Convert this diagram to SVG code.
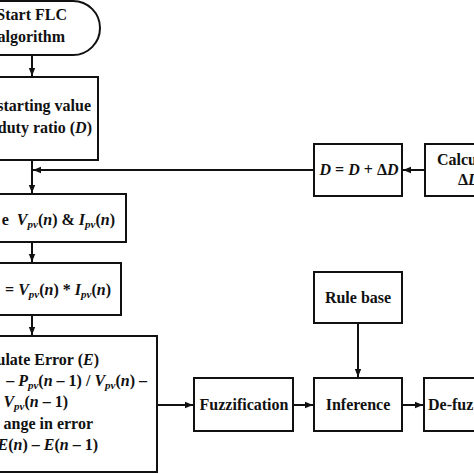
<svg xmlns="http://www.w3.org/2000/svg" width="474" height="474" viewBox="0 0 474 474">
<style>
.b{fill:#fff;stroke:#111;stroke-width:2}
.t{font-family:"Liberation Serif","Times New Roman",serif;font-weight:bold;font-size:16px;fill:#111}
.i{font-style:italic}
.s{font-size:11px;font-style:italic}
.c{stroke:#111;stroke-width:2;fill:none}
</style>
<defs>
<marker id="ah" viewBox="0 0 8 8" refX="8" refY="4" markerWidth="8" markerHeight="8" markerUnits="userSpaceOnUse" orient="auto">
<path d="M0,0.8 L8,4 L0,7.2 z" fill="#111"/>
</marker>
</defs>
<rect width="474" height="474" fill="#fff"/>
<g id="connectors">
<line class="c" x1="32" y1="56" x2="32" y2="76" marker-end="url(#ah)"/>
<line class="c" x1="32" y1="160" x2="32" y2="193" marker-end="url(#ah)"/>
<line class="c" x1="314" y1="170" x2="33" y2="170" marker-end="url(#ah)"/>
<line class="c" x1="32" y1="242" x2="32" y2="262" marker-end="url(#ah)"/>
<line class="c" x1="32" y1="315" x2="32" y2="335" marker-end="url(#ah)"/>
<line class="c" x1="425" y1="170" x2="403" y2="170" marker-end="url(#ah)"/>
<line class="c" x1="157" y1="405" x2="193" y2="405" marker-end="url(#ah)"/>
<line class="c" x1="293" y1="405" x2="313" y2="405" marker-end="url(#ah)"/>
<line class="c" x1="402" y1="405" x2="423" y2="405" marker-end="url(#ah)"/>
<line class="c" x1="358" y1="323" x2="358" y2="377" marker-end="url(#ah)"/>
</g>
<g id="start">
<path class="b" d="M-10,1 H73 A27,27 0 0 1 73,55 H-10 Z"/>
<text class="t" x="67" y="20" text-anchor="end">Start FLC</text>
<text class="t" x="65" y="42" text-anchor="end">algorithm</text>
</g>
<g id="init">
<rect class="b" x="-10" y="77" width="108" height="83"/>
<text class="t" x="91" y="111" text-anchor="end">starting value</text>
<text class="t" x="92" y="133" text-anchor="end">duty ratio (<tspan class="i">D</tspan>)</text>
</g>
<g id="measure">
<rect class="b" x="-10" y="194" width="136" height="48"/>
<text class="t" x="115" y="225" text-anchor="end">e <tspan dx="4" class="i">V</tspan><tspan class="s" dy="3">pv</tspan><tspan dy="-3">(</tspan><tspan class="i">n</tspan>) &amp; <tspan class="i">I</tspan><tspan class="s" dy="3">pv</tspan><tspan dy="-3">(</tspan><tspan class="i">n</tspan>)</text>
</g>
<g id="power">
<rect class="b" x="-10" y="263" width="131" height="52"/>
<text class="t" x="111" y="295" text-anchor="end">= <tspan class="i">V</tspan><tspan class="s" dy="3">pv</tspan><tspan dy="-3">(</tspan><tspan class="i">n</tspan>) * <tspan class="i">I</tspan><tspan class="s" dy="3">pv</tspan><tspan dy="-3">(</tspan><tspan class="i">n</tspan>)</text>
</g>
<g id="error">
<rect class="b" x="-10" y="336" width="167" height="136"/>
<text class="t" x="99" y="365" text-anchor="end">ulate Error (<tspan class="i">E</tspan>)</text>
<text class="t" x="147" y="386" text-anchor="end">– <tspan class="i">P</tspan><tspan class="s" dy="3">pv</tspan><tspan dy="-3">(</tspan><tspan class="i">n</tspan> – 1) / <tspan class="i">V</tspan><tspan class="s" dy="3">pv</tspan><tspan dy="-3">(</tspan><tspan class="i">n</tspan>) –</text>
<text class="t" x="68" y="407" text-anchor="end"><tspan class="i">V</tspan><tspan class="s" dy="3">pv</tspan><tspan dy="-3">(</tspan><tspan class="i">n</tspan> – 1)</text>
<text class="t" x="93" y="429" text-anchor="end">ange in error</text>
<text class="t" x="98" y="450" text-anchor="end"><tspan class="i">E</tspan>(<tspan class="i">n</tspan>) – <tspan class="i">E</tspan>(<tspan class="i">n</tspan> – 1)</text>
</g>
<g id="update">
<rect class="b" x="314" y="144" width="88" height="52"/>
<text class="t" x="359" y="175" text-anchor="middle"><tspan class="i">D</tspan> = <tspan class="i">D</tspan> + Δ<tspan class="i">D</tspan></text>
</g>
<g id="calc">
<rect class="b" x="425" y="144" width="60" height="52"/>
<text class="t" x="437" y="165">Calcu</text>
<text class="t" x="458" y="185">Δ<tspan class="i">D</tspan></text>
</g>
<g id="rulebase">
<rect class="b" x="314" y="272" width="88" height="51"/>
<text class="t" x="358" y="303" text-anchor="middle">Rule base</text>
</g>
<g id="fuzz">
<rect class="b" x="194" y="378" width="99" height="53"/>
<text class="t" x="244" y="410" text-anchor="middle">Fuzzification</text>
</g>
<g id="inference">
<rect class="b" x="314" y="378" width="88" height="53"/>
<text class="t" x="358" y="410" text-anchor="middle">Inference</text>
</g>
<g id="defuzz">
<rect class="b" x="424" y="378" width="60" height="53"/>
<text class="t" x="428" y="410">De-fuz</text>
</g>
</svg>
